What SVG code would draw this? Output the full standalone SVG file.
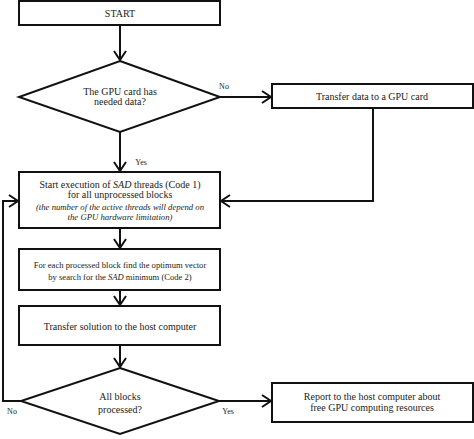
<svg xmlns="http://www.w3.org/2000/svg" width="474" height="439" viewBox="0 0 474 439">
<style>
.box{fill:#fff;stroke:#111;stroke-width:2}
.t{font-size:10px;fill:#222;text-anchor:middle}
.t.n{font-size:8.7px}
.t.m{font-size:8.6px}
.s{font-size:8px;fill:#222;text-anchor:middle}
.i{font-style:italic}
.c{fill:none;stroke:#111;stroke-width:2}
</style>
<defs>
<marker id="a" markerWidth="12" markerHeight="14" refX="10" refY="7" orient="auto" markerUnits="userSpaceOnUse">
<path d="M1,1 L10,7 L1,13" fill="none" stroke="#111" stroke-width="2"/>
</marker>
</defs>
<rect width="474" height="439" fill="#fff"/>
<g font-family="'Liberation Serif', 'Times New Roman', 'DejaVu Serif', serif">
<g id="connectors">
<path class="c" d="M120,25 V60" marker-end="url(#a)"/>
<path class="c" d="M220,97 H271" marker-end="url(#a)"/>
<path class="c" d="M373,108 V201 H221" marker-end="url(#a)"/>
<path class="c" d="M120,132 V171" marker-end="url(#a)"/>
<path class="c" d="M120,228 V248" marker-end="url(#a)"/>
<path class="c" d="M120,290 V305" marker-end="url(#a)"/>
<path class="c" d="M120,345 V367" marker-end="url(#a)"/>
<path class="c" d="M21,401 H3 V201 H18" marker-end="url(#a)"/>
<path class="c" d="M219,401 H271" marker-end="url(#a)"/>
<text class="s" x="224" y="89">No</text>
<text class="s" x="141" y="165">Yes</text>
<text class="s" x="12" y="414">No</text>
<text class="s" x="228" y="414">Yes</text>
</g>
<g id="start">
<rect class="box" x="19" y="1" width="201" height="24"/>
<text class="t" x="120" y="17">START</text>
</g>
<g id="decision1">
<polygon class="box" points="120,61 220,97 120,132 19,97"/>
<text class="t" x="120" y="95">The GPU card has</text>
<text class="t" x="120" y="105">needed data?</text>
</g>
<g id="transfer-data">
<rect class="box" x="272" y="84" width="201" height="24"/>
<text class="t" x="372" y="100">Transfer data to a GPU card</text>
</g>
<g id="start-exec">
<rect class="box" x="19" y="172" width="201" height="56"/>
<text class="t" x="120" y="188">Start execution of <tspan class="i">SAD</tspan> threads (Code 1)</text>
<text class="t" x="120" y="198">for all unprocessed blocks</text>
<text class="t n i" x="120" y="210">(the number of the active threads will depend on</text>
<text class="t n i" x="120" y="220">the GPU hardware limitation)</text>
</g>
<g id="find-vector">
<rect class="box" x="19" y="249" width="201" height="41"/>
<text class="t m" x="120" y="268">For each processed block find the optimum vector</text>
<text class="t m" x="120" y="280">by search for the <tspan class="i">SAD</tspan> minimum (Code 2)</text>
</g>
<g id="transfer-solution">
<rect class="box" x="19" y="306" width="201" height="39"/>
<text class="t" x="120" y="330">Transfer solution to the host computer</text>
</g>
<g id="decision2">
<polygon class="box" points="120,368 219,401 120,434 21,401"/>
<text class="t" x="120" y="400">All blocks</text>
<text class="t" x="120" y="413">processed?</text>
</g>
<g id="report">
<rect class="box" x="272" y="383" width="201" height="39"/>
<text class="t" x="372" y="400">Report to the host computer about</text>
<text class="t" x="372" y="411">free GPU computing resources</text>
</g>
</g>
</svg>
